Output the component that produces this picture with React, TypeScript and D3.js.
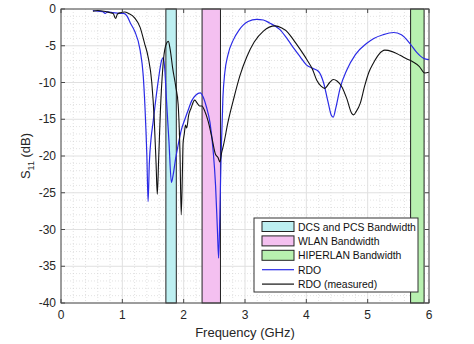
import React from "react";
import * as d3 from "d3";

const rdoFreq = [0.52,0.6,0.68,0.72,0.76,0.85,0.95,1.02,1.08,1.13,1.2,1.29,1.34,1.37,1.4,1.42,1.44,1.47,1.5,1.55,1.59,1.64,1.67,1.69,1.72,1.76,1.8,1.83,1.87,1.91,1.96,2.02,2.08,2.13,2.2,2.27,2.32,2.37,2.43,2.48,2.52,2.55,2.57,2.59,2.61,2.64,2.67,2.72,2.81,2.9,2.97,3.05,3.19,3.3,3.4,3.57,3.7,3.8,3.9,4.0,4.11,4.2,4.28,4.35,4.41,4.44,4.48,4.55,4.66,4.8,4.98,5.1,5.25,5.42,5.55,5.69,5.8,5.91,6.0];
const rdoS11 = [-0.2,-0.3,-0.35,-0.6,-0.4,-0.5,-0.6,-0.6,-1.0,-1.9,-3.0,-5.6,-9.0,-13.5,-20,-26.2,-21,-17.5,-15.5,-12,-9.5,-7.0,-6.6,-8,-12.4,-18,-23.6,-22.5,-20.3,-18.5,-16.5,-15.0,-13.6,-12.5,-11.7,-11.4,-12,-13.3,-15.5,-19.2,-24,-30,-33.9,-28,-20,-12,-8.7,-6.3,-4.2,-2.9,-2.2,-1.7,-1.4,-1.5,-1.9,-2.8,-4.2,-5.4,-6.5,-7.6,-8.1,-8.5,-10,-12.5,-14.5,-14.7,-13.5,-10.8,-8.3,-6.2,-4.7,-4.0,-3.5,-3.2,-3.5,-4.7,-5.9,-6.7,-6.9];

const measFreq = [0.52,0.6,0.7,0.8,0.85,0.89,0.92,0.97,1.04,1.1,1.2,1.29,1.36,1.42,1.48,1.52,1.55,1.57,1.59,1.62,1.66,1.7,1.75,1.78,1.82,1.87,1.91,1.94,1.96,1.98,1.99,2.01,2.03,2.05,2.08,2.12,2.18,2.22,2.26,2.3,2.34,2.4,2.46,2.52,2.56,2.59,2.62,2.65,2.72,2.81,2.92,3.03,3.15,3.3,3.49,3.6,3.7,3.79,3.9,4.01,4.1,4.17,4.24,4.3,4.38,4.44,4.5,4.58,4.66,4.74,4.77,4.81,4.88,4.95,5.02,5.09,5.18,5.28,5.4,5.53,5.64,5.74,5.84,5.93,6.0];
const measS11 = [-0.3,-0.2,-0.3,-0.5,-0.6,-1.3,-0.7,-0.5,-0.4,-0.6,-1.2,-2.5,-4.6,-6.5,-10,-15,-21,-25.2,-21,-14,-8,-5.2,-4.4,-5.5,-8,-10.5,-13,-19.6,-28,-22,-18.3,-17,-15.8,-16.2,-14.5,-13.5,-12.4,-12.8,-13.2,-13.2,-13.8,-15.3,-17.5,-19.8,-20.2,-20.8,-19.5,-18.5,-15.5,-12.4,-9.0,-6.5,-4.5,-3.0,-2.3,-2.6,-3.2,-4.2,-5.5,-6.9,-8.2,-9.7,-10.5,-10.8,-10.0,-9.6,-9.8,-10.6,-12.2,-14.2,-14.4,-14.0,-12.8,-10.5,-8.6,-7.4,-6.2,-5.6,-5.8,-6.3,-6.8,-7.2,-7.8,-8.7,-8.6];

const bandNames = ["DCS and PCS Bandwidth", "WLAN Bandwidth", "HIPERLAN Bandwidth"];
const bandStart = [1.71, 2.3, 5.7];
const bandEnd = [1.88, 2.6, 5.92];
const bandColors = ["#bdeff1", "#f4c0f0", "#b8f1b0"];

const seriesNames = ["RDO", "RDO (measured)"];
const seriesColors = ["#2b2be6", "#111111"];

const xTicks = [0, 1, 2, 3, 4, 5, 6];
const yTicks = [0, -5, -10, -15, -20, -25, -30, -35, -40];

export default function App() {
  const W = 474, H = 344;
  const left = 61, right = 429, top = 9, bottom = 303;
  const x = d3.scaleLinear().domain([0, 6]).range([left, right]);
  const y = d3.scaleLinear().domain([-40, 0]).range([bottom, top]);
  const font = "'Liberation Sans', Arial, sans-serif";

  const xMinor = d3.range(0, 6.001, 0.2).filter(v => Math.abs(v - Math.round(v)) > 1e-6);
  const yMinor = d3.range(-40, 0.001, 1).filter(v => Math.round(v) % 5 !== 0);

  const rdoPath = d3.line<number>().curve(d3.curveMonotoneX).x((_, i) => x(rdoFreq[i])).y((d) => y(d))(rdoS11) || "";
  const measPath = d3.line<number>().curve(d3.curveMonotoneX).x((_, i) => x(measFreq[i])).y((d) => y(d))(measS11) || "";

  const lgX = 254, lgY = 218, lgW = 164, lgH = 74;
  const rowH = 14.4;

  return (
    <svg width={W} height={H} style={{ position: "absolute", left: 0, top: 0, background: "#fff" }}>
      <rect x={0} y={0} width={W} height={H} fill="#fff" />
      <rect x={left} y={top} width={right - left} height={bottom - top} fill="#fff" />
      {xMinor.map((v, i) => (
        <line key={"xm" + i} x1={x(v)} x2={x(v)} y1={top} y2={bottom} stroke="#cfcfcf" strokeWidth={0.6} strokeDasharray="1,2" />
      ))}
      {yMinor.map((v, i) => (
        <line key={"ym" + i} x1={left} x2={right} y1={y(v)} y2={y(v)} stroke="#cfcfcf" strokeWidth={0.6} strokeDasharray="1,2" />
      ))}
      {xTicks.map((v, i) => (
        <line key={"xg" + i} x1={x(v)} x2={x(v)} y1={top} y2={bottom} stroke="#e0e0e0" strokeWidth={1} />
      ))}
      {yTicks.map((v, i) => (
        <line key={"yg" + i} x1={left} x2={right} y1={y(v)} y2={y(v)} stroke="#e0e0e0" strokeWidth={1} />
      ))}
      {bandStart.map((s, i) => (
        <rect key={"b" + i} x={x(s)} y={top} width={x(bandEnd[i]) - x(s)} height={bottom - top} fill={bandColors[i]} stroke="#222" strokeWidth={1} />
      ))}
      <path d={rdoPath} fill="none" stroke={seriesColors[0]} strokeWidth={1.2} />
      <path d={measPath} fill="none" stroke={seriesColors[1]} strokeWidth={1.1} />
      <rect x={left} y={top} width={right - left} height={bottom - top} fill="none" stroke="#4a4a4a" strokeWidth={1} />
      {xTicks.map((v, i) => (
        <g key={"xt" + i}>
          <line x1={x(v)} x2={x(v)} y1={bottom} y2={bottom - 4} stroke="#4a4a4a" />
          <line x1={x(v)} x2={x(v)} y1={top} y2={top + 4} stroke="#4a4a4a" />
          <text x={x(v)} y={bottom + 16} textAnchor="middle" fontFamily={font} fontSize={12} fill="#262626">{v}</text>
        </g>
      ))}
      {yTicks.map((v, i) => (
        <g key={"yt" + i}>
          <line x1={left} x2={left + 4} y1={y(v)} y2={y(v)} stroke="#4a4a4a" />
          <line x1={right} x2={right - 4} y1={y(v)} y2={y(v)} stroke="#4a4a4a" />
          <text x={left - 5} y={y(v) + 4} textAnchor="end" fontFamily={font} fontSize={12} fill="#262626">{v}</text>
        </g>
      ))}
      <text x={(left + right) / 2} y={337} textAnchor="middle" fontFamily={font} fontSize={13} fill="#262626">Frequency (GHz)</text>
      <text transform={`translate(30,${(top + bottom) / 2}) rotate(-90)`} textAnchor="middle" fontFamily={font} fontSize={13} fill="#262626">
        S<tspan fontSize={9} dy={4}>11</tspan><tspan dy={-4}> (dB)</tspan>
      </text>
      <g>
        <rect x={lgX} y={lgY} width={lgW} height={lgH} fill="#fff" stroke="#333" strokeWidth={1} />
        {bandNames.map((n, i) => (
          <g key={"lb" + i}>
            <rect x={lgX + 8} y={lgY + 3.5 + i * rowH} width={32} height={10} fill={bandColors[i]} stroke="#222" strokeWidth={1} />
            <text x={lgX + 44} y={lgY + 12.5 + i * rowH} fontFamily={font} fontSize={10.4} fill="#111">{n}</text>
          </g>
        ))}
        {seriesNames.map((n, i) => (
          <g key={"ls" + i}>
            <line x1={lgX + 8} x2={lgX + 40} y1={lgY + 8.5 + (i + 3) * rowH} y2={lgY + 8.5 + (i + 3) * rowH} stroke={seriesColors[i]} strokeWidth={1.2} />
            <text x={lgX + 44} y={lgY + 12.5 + (i + 3) * rowH} fontFamily={font} fontSize={10.4} fill="#111">{n}</text>
          </g>
        ))}
      </g>
    </svg>
  );
}
